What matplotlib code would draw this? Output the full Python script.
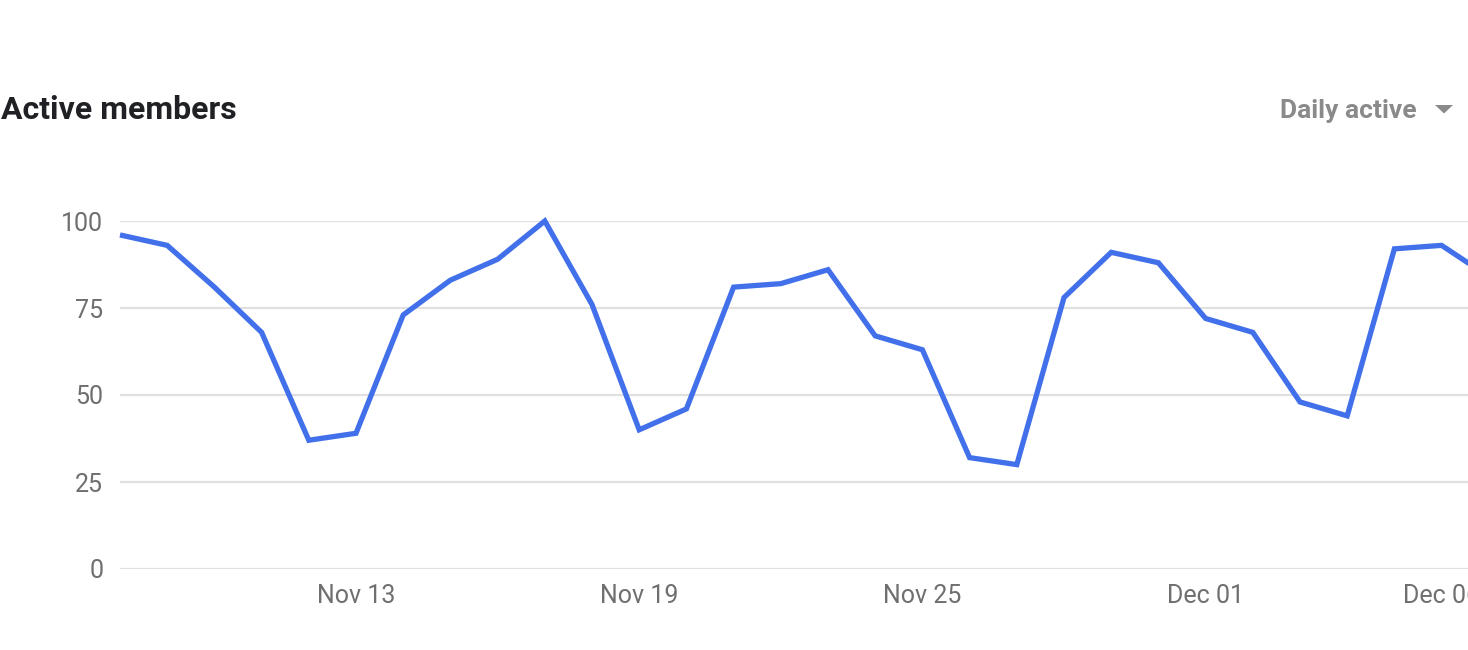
import numpy as np
import pandas as pd
import matplotlib
matplotlib.use('Agg')
import matplotlib.pyplot as plt
import matplotlib.dates as mdates
from matplotlib.patches import Polygon


W, H = 1468, 650

dates = pd.date_range('2023-11-08', '2023-12-07', freq='D')
active = [96, 93, 81, 68, 37, 39, 73, 83, 89, 100,
          76, 40, 46, 81, 82, 86, 67, 63, 32, 30,
          78, 91, 88, 72, 68, 48, 44, 92, 93, 84]
y_ticks = [0, 25, 50, 75, 100]
x_tick_dates = pd.to_datetime(['2023-11-13', '2023-11-19', '2023-11-25',
                               '2023-12-01', '2023-12-06'])
x_tick_labels = ['Nov 13', 'Nov 19', 'Nov 25', 'Dec 01', 'Dec 06']

plt.rcParams['font.family'] = ['Roboto', 'DejaVu Sans']

fig = plt.figure(figsize=(W / 100, H / 100), dpi=100)
fig.patch.set_facecolor('white')

# axes placed in pixels: x from 120, y from 221 (100) down to 569 (0)
day_px = 47.2
ndays = 30
ax = fig.add_axes([120 / W, (H - 569) / H, ndays * day_px / W, 348 / H])
ax.set_xlim(mdates.date2num(dates[0]), mdates.date2num(dates[0]) + ndays)
ax.set_ylim(0, 100)

ax.plot(mdates.date2num(dates), active, color='#4270EA', lw=3.8,
        solid_joinstyle='miter', solid_capstyle='butt', clip_on=False, zorder=3)

ax.set_yticks(y_ticks)
ax.set_xticks(mdates.date2num(x_tick_dates))
ax.set_xticklabels(x_tick_labels)
ax.grid(axis='y', color='#e0e0e0', lw=1.6)
ax.set_axisbelow(True)
for s in ax.spines.values():
    s.set_visible(False)
ax.tick_params(axis='both', length=0, labelsize=18, labelcolor='#6f6f6f')
ax.tick_params(axis='y', pad=12)
ax.tick_params(axis='x', pad=10.5)

fig.text(1 / W, (H - 110) / H, 'Active members', fontsize=23,
         fontweight='bold', color='#202124', ha='left', va='center')
fig.text(1417 / W, (H - 111) / H, 'Daily active', fontsize=19,
         fontweight='bold', color='#8a8a8a', ha='right', va='center')
tri = [(1435, 105), (1453, 105), (1444, 113.5)]
fig.patches.append(Polygon([(x / W, (H - y) / H) for x, y in tri],
                           closed=True, transform=fig.transFigure,
                           facecolor='#8a8a8a', edgecolor='none'))

fig.savefig('out.png', dpi=100)
